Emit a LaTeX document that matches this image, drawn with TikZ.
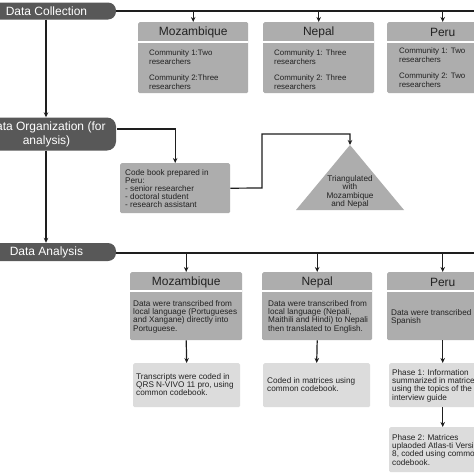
\documentclass[tikz,border=0pt]{standalone}
\usepackage{fontspec}
\setmainfont{Liberation Sans}
\usetikzlibrary{arrows.meta}
\definecolor{pilld}{HTML}{585858}
\definecolor{boxg}{HTML}{ADADAD}
\definecolor{boxl}{HTML}{DCDCDC}
\definecolor{linec}{HTML}{1E1E1E}
\definecolor{txt}{HTML}{222222}
\begin{document}
\begin{tikzpicture}[x=1pt,y=-1pt,
 pill/.style={fill=pilld, text=white, rounded corners=8pt, font=\fontsize{12}{14}\selectfont, align=center, inner sep=0pt, minimum width=139pt},
 gbox/.style={fill=boxg, rounded corners=1.5pt, inner sep=0pt, anchor=north west},
 lbox/.style={fill=boxl, rounded corners=1.5pt, inner sep=0pt, anchor=north west},
 head/.style={font=\fontsize{12}{13}\selectfont, text=txt, inner sep=0pt},
 body/.style={font=\fontsize{8.2}{8.4}\selectfont, align=left, anchor=north west, inner sep=0pt, text=txt},
 comm/.style={body, font=\fontsize{7.9}{8.6}\selectfont},
 conn/.style={draw=linec, line width=1.2pt},
 arr/.style={conn, -{Stealth[length=5pt,width=4.5pt]}},
 sepline/.style={draw=white, line width=1.2pt}
]
\useasboundingbox (0,0) rectangle (474,474);
\clip (0,0) rectangle (474,474);
\fill[white] (0,0) rectangle (474,474);

% ---------- Data Collection ----------
\node[pill, minimum height=17pt] (dc) at (46.5,11) {Data Collection};
\coordinate (dcEnd) at (474,11);
\draw[conn] (dc.east) -- (dcEnd);

\node[gbox, minimum width=110pt, minimum height=71pt] (mozC) at (138,22) {};
\node[gbox, minimum width=111pt, minimum height=71pt] (nepC) at (263,22) {};
\node[gbox, minimum width=111pt, minimum height=71pt] (peruC) at (387,22) {};
\foreach \b in {mozC,nepC,peruC}{
  \draw[sepline] (\b.north west |- 0,42) -- (\b.north east |- 0,42);
  \draw[arr] (\b.north |- dc.east) -- (\b.north);
}
\node[head] (mozCh) at (mozC.north |- 0,32) {Mozambique};
\node[head] (nepCh) at (nepC.north |- 0,32) {Nepal};
\node[head] (peruCh) at (peruC.north |- 0,32) {Peru};

\node[comm] (mc1) at (149,50) {Community 1:Two\\researchers};
\node[comm] (mc2) at (149,75) {Community 2:Three\\researchers};
\node[comm] (nc1) at (274,50) {Community 1: Three\\researchers};
\node[comm] (nc2) at (274,75) {Community 2: Three\\researchers};
\node[comm] (pc1) at (399,48) {Community 1: Two\\researchers};
\node[comm] (pc2) at (399,73) {Community 2: Two\\researchers};

% ---------- Data Organization ----------
\node[pill, minimum height=33pt, rounded corners=9pt] (org) at (46.5,134) {Data Organization (for\\analysis)};
\draw[arr] (dc.south -| 46,0) -- (org.north -| 46,0);

\node[gbox, minimum width=110pt, minimum height=50pt] (cb) at (120,163) {};
\node[body, font=\fontsize{8.2}{8.1}\selectfont] (cbt) at (125,169) {Code book prepared in\\Peru:\\- senior researcher\\- doctoral student\\- research assistant};
\coordinate (orgOut) at (117,129);
\draw[arr] (orgOut) -| (cb.north);

\fill[boxg] (350,145) -- (404,210) -- (296,210) -- cycle;
\coordinate (triTop) at (350,145);
\node[body, anchor=center, align=center, font=\fontsize{8.2}{8.4}\selectfont] (tri) at (350,192) {Triangulated\\with\\Mozambique\\and Nepal};
\coordinate (bendA) at (262,188);
\coordinate (bendB) at (262,134);
\draw[arr] (cb.east) -- (bendA) -- (bendB) -| (triTop);

% ---------- Data Analysis ----------
\node[pill, minimum height=18pt] (da) at (46.5,252) {Data Analysis};
\draw[arr] (org.south -| 46,0) -- (da.north -| 46,0);
\coordinate (daEnd) at (474,253);
\draw[conn] (da.east |- 0,253) -- (daEnd);

\node[gbox, minimum width=112pt, minimum height=68pt] (mozA) at (130,272) {};
\node[gbox, minimum width=110pt, minimum height=68pt] (nepA) at (262,272) {};
\node[gbox, minimum width=111pt, minimum height=68pt] (peruA) at (387,272) {};
\foreach \b in {mozA,nepA,peruA}{
  \draw[sepline] (\b.north west |- 0,291) -- (\b.north east |- 0,291);
  \draw[arr] (\b.north |- 0,253) -- (\b.north);
}
\node[head] (mozAh) at (mozA.north |- 0,282) {Mozambique};
\node[head] (nepAh) at (nepA.north |- 0,282) {Nepal};
\node[head] (peruAh) at (peruA.north |- 0,282) {Peru};

\node[body] (mat) at (133,300) {Data were transcribed from\\local language (Portugueses\\and Xangane) directly into\\Portuguese.};
\node[body] (nat) at (268,300) {Data were transcribed from\\local language (Nepali,\\Maithili and Hindi) to Nepali\\then translated to English.};
\node[body] (pat) at (391,309) {Data were transcribed\\Spanish};

\node[lbox, minimum width=107pt, minimum height=44pt] (mozB) at (133,363) {};
\node[lbox, minimum width=107pt, minimum height=44pt] (nepB) at (263,363) {};
\node[lbox, minimum width=107pt, minimum height=44pt] (peruB) at (389,363) {};
\node[lbox, minimum width=107pt, minimum height=45pt] (peruB2) at (389,427) {};
\draw[arr] (mozA.south) -- (mozB.north);
\draw[arr] (nepA.south) -- (nepB.north);
\draw[arr] (peruA.south) -- (peruB.north);
\draw[arr] (peruB.south) -- (peruB2.north);

\node[body] (mbt) at (136,373) {Transcripts were coded in\\QRS N-VIVO 11 pro, using\\common codebook.};
\node[body] (nbt) at (267,377) {Coded in matrices using\\common codebook.};
\node[body] (pbt) at (392,369) {Phase 1: Information\\summarized in matrices\\using the topics of the\\interview guide};
\node[body] (pb2t) at (392,434) {Phase 2: Matrices\\uplaoded Atlas-ti Version\\8, coded using common\\codebook.};
\end{tikzpicture}
\end{document}
